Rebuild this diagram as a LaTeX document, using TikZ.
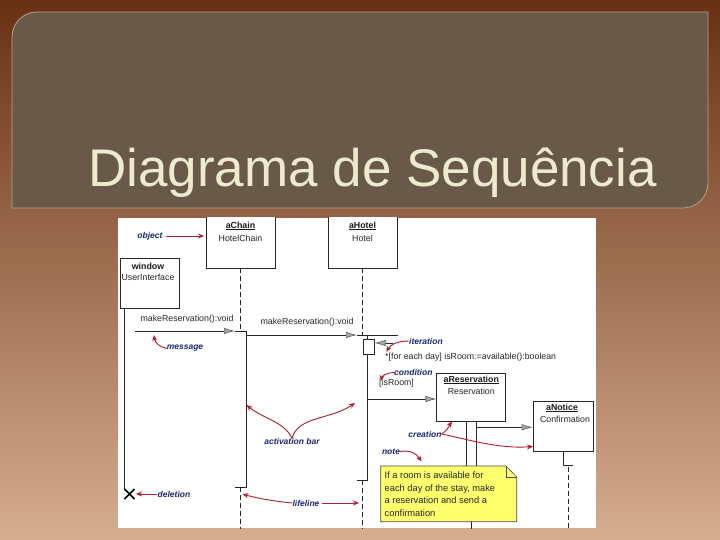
\documentclass[tikz,border=0pt]{standalone}
\usepackage{fontspec}
\setmainfont{Liberation Sans}
\usetikzlibrary{arrows.meta}
\definecolor{bgtop}{RGB}{104,48,20}
\definecolor{bgmid}{RGB}{186,106,60}
\definecolor{bgbot}{RGB}{214,174,144}
\definecolor{titlebox}{RGB}{104,89,72}
\definecolor{titleborder}{RGB}{190,160,125}
\definecolor{titletext}{RGB}{238,234,206}
\definecolor{lblblue}{RGB}{28,38,110}
\definecolor{annred}{RGB}{172,30,42}
\definecolor{noteyellow}{RGB}{255,255,110}
\tikzset{
 objbox/.style={draw=black!85, line width=0.7, fill=white, inner sep=0},
 lifeline/.style={draw=black!85, line width=0.7, dash pattern=on 5pt off 3pt},
 solidline/.style={draw=black!85, line width=0.7},
 msg/.style={draw=black!85, line width=0.7, -{Latex[length=11pt,width=6.5pt,color=black!60,fill=gray!65]}},
 ann/.style={draw=annred, line width=0.9, -{Stealth[length=6pt,width=5pt]}},
 annlbl/.style={text=lblblue, font=\fontsize{8.5}{10}\selectfont\bfseries\itshape, inner sep=0},
 txt/.style={text=black!85, font=\fontsize{8.8}{11}\selectfont, inner sep=0},
 objname/.style={text=black!90, font=\fontsize{8.8}{11}\selectfont\bfseries, inner sep=0},
}
\begin{document}
\begin{tikzpicture}[x=1pt,y=-1pt]
\useasboundingbox (0,0) rectangle (720,540);
\shade[top color=bgtop, middle color=bgmid, bottom color=bgbot] (0,0) rectangle (720,540);
% title panel
\filldraw[fill=titlebox, draw=titleborder, line width=0.8]
  (12,208) -- (12,37) .. controls (12,23.2) and (23.2,12) .. (37,12)
  -- (708,12) -- (708,183) .. controls (708,196.8) and (696.8,208) .. (683,208) -- cycle;
\node[anchor=base west, inner sep=0, text=titletext, font=\fontsize{53}{60}\selectfont] (title) at (88,187) {Diagrama de Sequência};
% diagram area
\fill[white] (118,218) rectangle (596,528);
\begin{scope}
\clip (118,218) rectangle (596,528);
% object boxes
\node[objbox, minimum width=69, minimum height=60] (chainBox) at (240.5,238) {};
\node[objbox, minimum width=69, minimum height=60] (hotelBox) at (362.5,238) {};
\node[objbox, minimum width=59, minimum height=50] (windowBox) at (149.5,283) {};
\node[objbox, minimum width=69, minimum height=48] (resBox) at (471.3,397) {};
\node[objbox, minimum width=60, minimum height=50] (noticeBox) at (563,426.5) {};
\node[objname] (chainName) at (240.5,226) {\underline{aChain}};
\node[txt] (chainCls) at (240.5,238) {HotelChain};
\node[objname] (hotelName) at (362.5,226) {\underline{aHotel}};
\node[txt] (hotelCls) at (362.5,238) {Hotel};
\node[objname] (winName) at (148,266) {window};
\node[txt] (winCls) at (148,277.5) {UserInterface};
\node[objname] (resName) at (471.3,380) {\underline{aReservation}};
\node[txt] (resCls) at (471.3,391.5) {Reservation};
\node[objname] (noticeName) at (562,408) {\underline{aNotice}};
\node[txt] (noticeCls) at (565,419.5) {Confirmation};
% window lifeline and deletion
\coordinate (winTop) at (124.7,308);
\coordinate (winEnd) at (124.7,489);
\draw[solidline] (winTop) -- (winEnd);
\coordinate (delX) at (129.5,494);
\draw[black, line width=1.7] ([shift={(-5,-5)}]delX) -- ([shift={(5,5)}]delX)
  ([shift={(5,-5)}]delX) -- ([shift={(-5,5)}]delX);
% aChain lifeline and activation
\coordinate (chainActTL) at (235,331);
\coordinate (chainActTR) at (246,331);
\coordinate (chainActBR) at (246,487);
\coordinate (chainActBL) at (235,487);
\coordinate (chainEnd) at (240.5,530);
\draw[lifeline] (chainBox.south) -- (chainBox.south |- chainActTL);
\draw[solidline] (chainActTL) -- (chainActTR) -- (chainActBR) -- (chainActBL);
\draw[lifeline] (chainEnd |- chainActBL) -- (chainEnd);
% aHotel lifeline and activation
\coordinate (hotelActTL) at (357,335);
\coordinate (selfOut) at (398,335);
\coordinate (hotelActBR) at (367,480);
\coordinate (hotelActBL) at (357,480);
\coordinate (hotelEnd) at (362.5,530);
\draw[lifeline] (hotelBox.south) -- (hotelBox.south |- hotelActTL);
\draw[solidline] (hotelActTL) -- (selfOut);
\draw[solidline] (hotelActBR |- hotelActTL) -- (hotelActBR) -- (hotelActBL);
\draw[lifeline] (hotelEnd |- hotelActBL) -- (hotelEnd);
\node[objbox, minimum width=11, minimum height=15] (nestBox) at (368.8,346.5) {};
% aReservation activation
\node[objbox, minimum width=10, minimum height=96, anchor=north] (resAct) at (471.7,421) {};
\coordinate (resEnd) at (471.7,530);
\draw[solidline] (resAct.south) -- (resEnd);
% aNotice lifeline
\coordinate (noticeAct) at (563,465);
\coordinate (noticeActR) at (573,465);
\coordinate (noticeEnd) at (568,530);
\draw[solidline] (noticeBox.south -| noticeAct) -- (noticeAct) -- (noticeActR);
\draw[lifeline] (568,467) -- (noticeEnd);
% messages
\coordinate (m1s) at (135,331);
\draw[msg] (m1s) -- (chainActTL);
\node[txt] (m1lbl) at (187,319) {makeReservation():void};
\coordinate (m2s) at (246,335);
\draw[msg] (m2s) -- (hotelActTL);
\node[txt] (m2lbl) at (307,322) {makeReservation():void};
\coordinate (selfBack) at (393,343);
\draw[msg] (selfBack) -- (nestBox.east |- selfBack);
\node[txt, anchor=west] (iterTxt) at (385,357) {*[for each day] isRoom:=available():boolean};
\node[txt, anchor=west] (condTxt) at (379,383.5) {[isRoom]};
\coordinate (m3s) at (367,399);
\draw[msg] (m3s) -- (resBox.west |- m3s);
\coordinate (m4s) at (476.7,427.3);
\draw[msg] (m4s) -- (noticeBox.west |- m4s);
% note
\filldraw[fill=noteyellow, draw=black!70, line width=0.6]
  (380.7,466) -- (506,466) -- (516.7,477) -- (516.7,521.7) -- (380.7,521.7) -- cycle;
\draw[black!70, line width=0.6] (506,466) -- (506,477) -- (516.7,477);
\node[txt, anchor=north west, align=left, font=\fontsize{9.3}{12.5}\selectfont] (noteTxt) at (384.5,472)
  {If a room is available for\\each day of the stay, make\\a reservation and send a\\confirmation};
% annotations
\node[annlbl] (lblObject) at (150,236) {object};
\coordinate (objTip) at (204,236);
\draw[ann] (lblObject.east) ++(3,0) -- (objTip);
\node[annlbl] (lblMessage) at (185,348.5) {message};
\coordinate (msgTip) at (154,335);
\draw[ann] (lblMessage.west) .. controls (160,347) and (155,343) .. (msgTip);
\node[annlbl, anchor=west] (lblIter) at (409,341) {iteration};
\coordinate (iterTip) at (386.5,352);
\draw[ann] (lblIter.west) .. controls (397,341) and (390,345) .. (iterTip);
\node[annlbl, anchor=west] (lblCond) at (394,372.5) {condition};
\coordinate (condTip) at (381,381);
\draw[ann] (lblCond.west) .. controls (386,373) and (382,376) .. (condTip);
\node[annlbl] (lblAct) at (292,441.7) {activation bar};
\coordinate (actTipL) at (246.5,405);
\coordinate (actTipR) at (355,403);
\draw[ann] (lblAct.north) .. controls (285,422) and (262,418) .. (actTipL);
\draw[ann] (lblAct.north) .. controls (298,416) and (330,420) .. (actTipR);
\node[annlbl] (lblLife) at (306,503) {lifeline};
\coordinate (lifeTipL) at (242.5,494);
\coordinate (lifeTipR) at (359,503);
\draw[ann] (lblLife.west) .. controls (272,501) and (256,498) .. (lifeTipL);
\draw[ann] (lblLife.east) ++(2,0) -- (lifeTipR);
\node[annlbl] (lblDel) at (174,494) {deletion};
\coordinate (delTip) at (136,494);
\draw[ann] (lblDel.west) ++(-1,0) -- (delTip);
\node[annlbl] (lblCreate) at (425,434) {creation};
\coordinate (createTipA) at (452,421.5);
\coordinate (createTipB) at (533,446.5);
\draw[ann] (lblCreate.east) .. controls (447,431) and (449,426) .. (createTipA);
\draw[ann] (lblCreate.east) .. controls (470,440) and (500,449) .. (createTipB);
\node[annlbl] (lblNote) at (391,451.5) {note};
\coordinate (noteTip) at (421.5,461.5);
\draw[ann] (lblNote.east) .. controls (410,450) and (416,453) .. (noteTip);
\end{scope}
\end{tikzpicture}
\end{document}
